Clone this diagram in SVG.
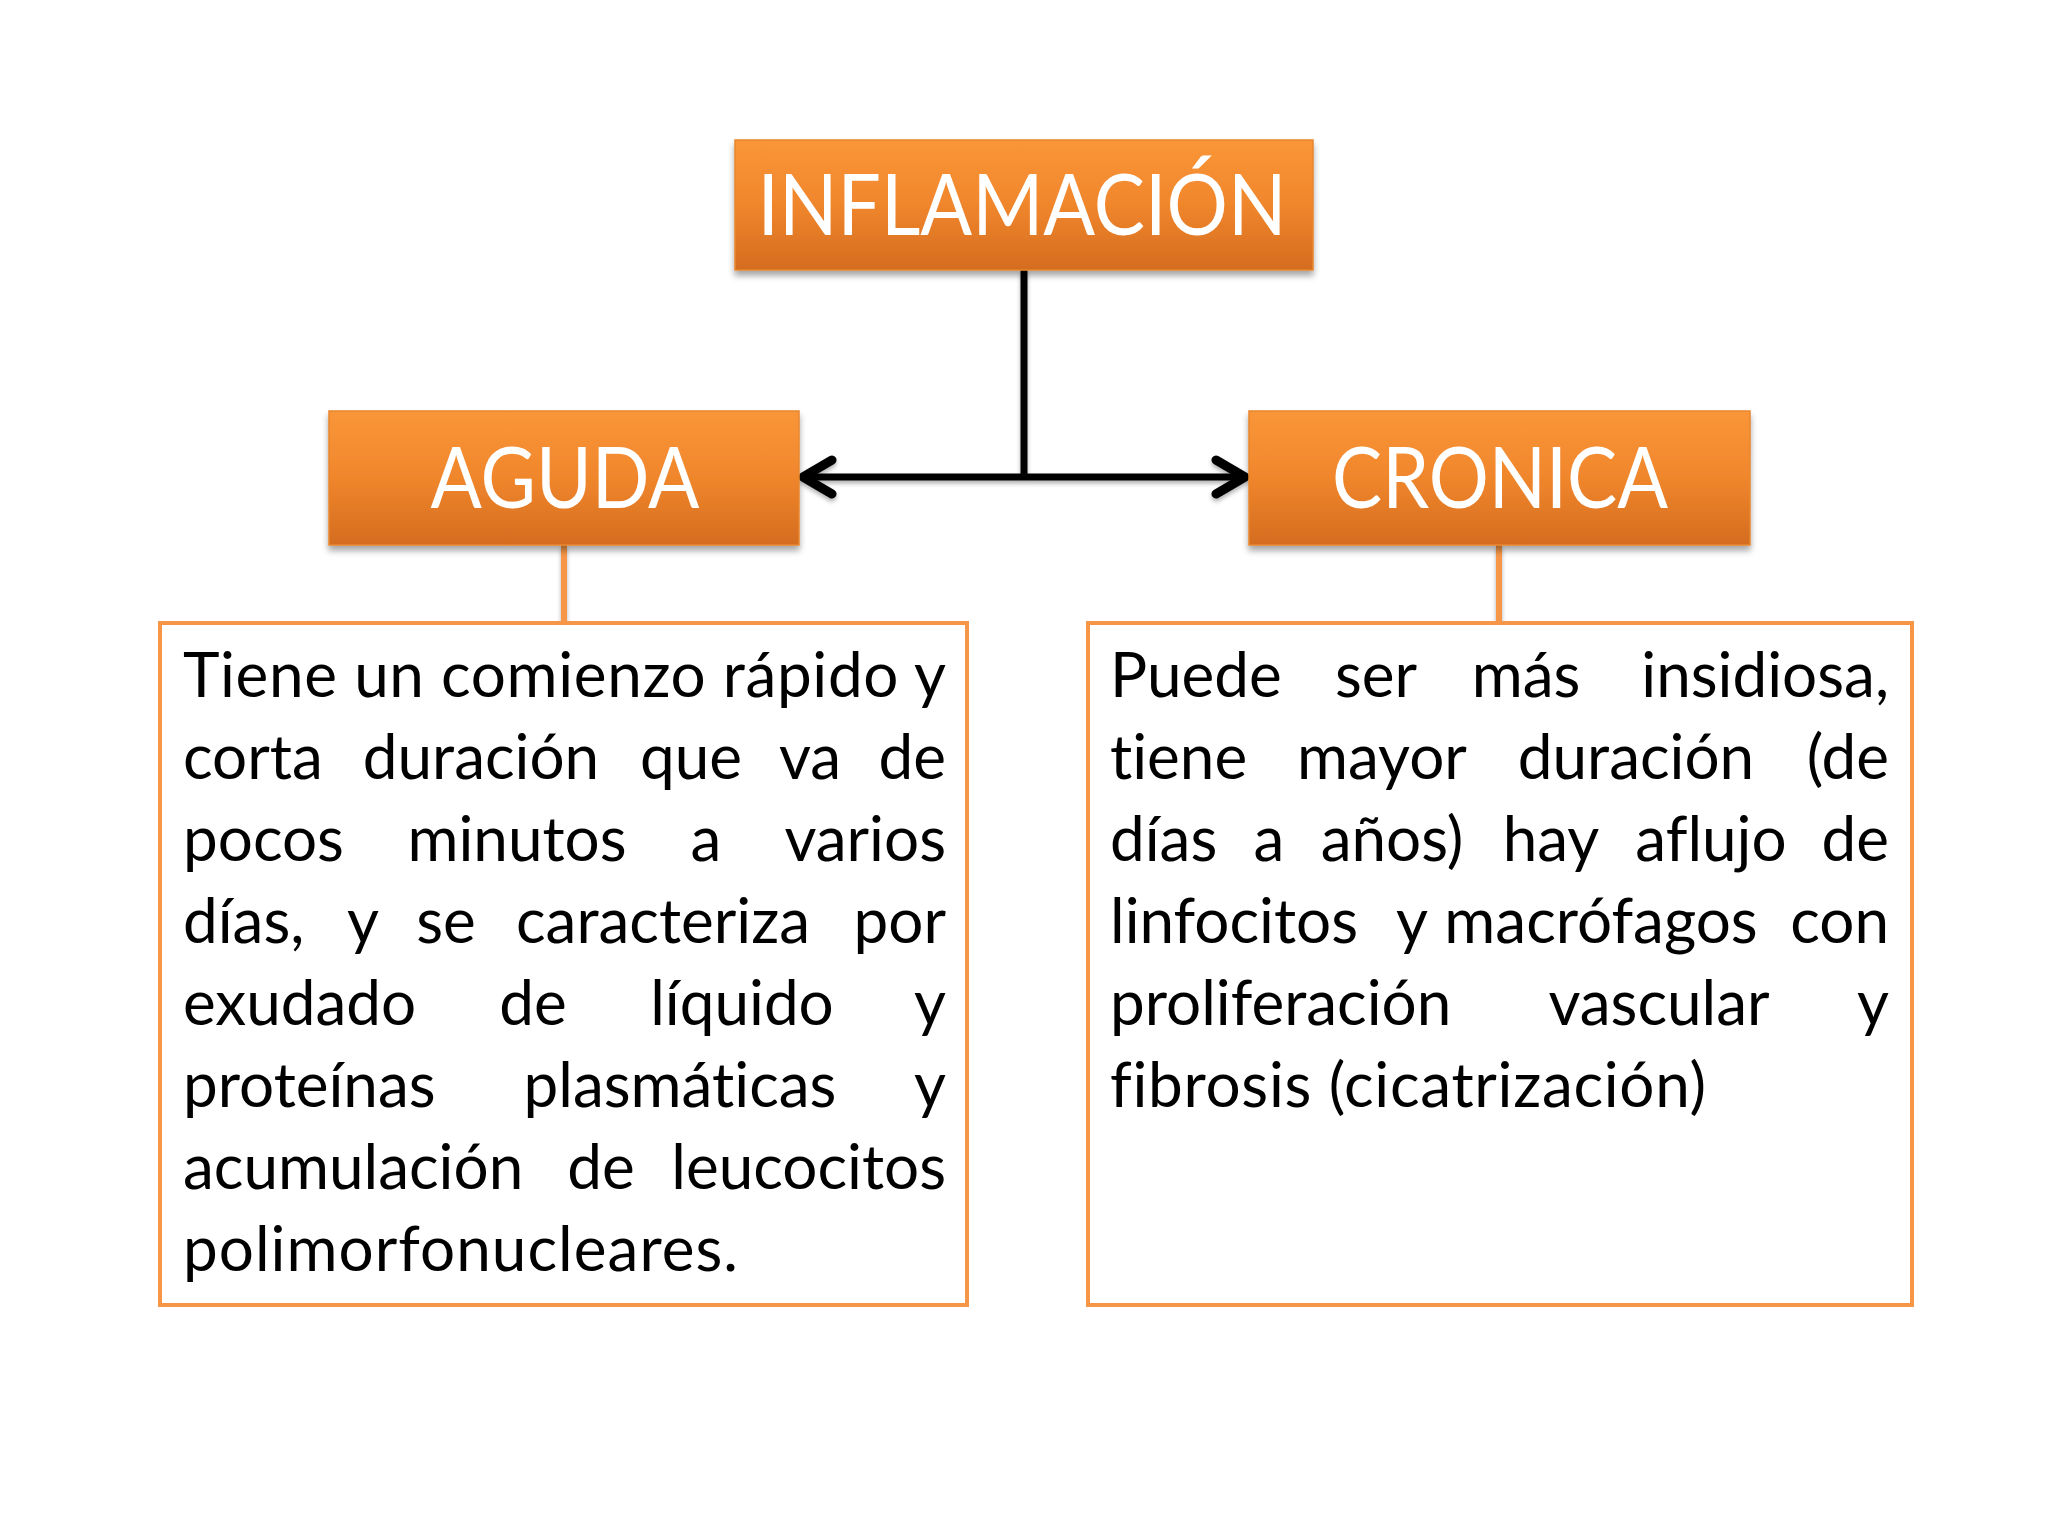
<svg xmlns="http://www.w3.org/2000/svg" width="2048" height="1536" viewBox="0 0 2048 1536">
<defs>
<linearGradient id="og" x1="0" y1="0" x2="0" y2="1">
<stop offset="0" stop-color="#FA9638"/>
<stop offset="0.5" stop-color="#F0862C"/>
<stop offset="1" stop-color="#D46C1F"/>
</linearGradient>
<filter id="sh" x="-10%" y="-20%" width="120%" height="150%">
<feDropShadow dx="0" dy="5" stdDeviation="3" flood-color="#000" flood-opacity="0.35"/>
</filter>
<filter id="lsh" filterUnits="userSpaceOnUse" x="0" y="0" width="2048" height="1536">
<feDropShadow dx="0" dy="3" stdDeviation="2" flood-color="#000" flood-opacity="0.3"/>
</filter>
<marker id="chev" viewBox="0 0 44 44" refX="39" refY="22" markerWidth="44" markerHeight="44" markerUnits="userSpaceOnUse" orient="auto-start-reverse">
<path d="M10 5 L39 22 L10 39" fill="none" stroke="#000" stroke-width="9" stroke-linecap="round" stroke-linejoin="round"/>
</marker>
<style>
.hd{fill:url(#og);stroke:#E8862E;stroke-width:1.5}
.ht{font-family:Lato,"Open Sans",sans-serif;font-size:86px;fill:#fff;text-anchor:middle}
.tb{fill:#fff;stroke:#F79646;stroke-width:4}
.bt{font-family:Lato,"Open Sans",sans-serif;font-size:62px;fill:#000;font-variant-ligatures:none}
.m{text-anchor:middle}
.e{text-anchor:end}
.oc{fill:#F79646}
.bk{stroke:#000;stroke-width:7;fill:none}
</style>
</defs>
<rect width="2048" height="1536" fill="#fff"/>
<g id="connectors">
<g filter="url(#lsh)">
<line class="bk" x1="1024" y1="270" x2="1024" y2="477"/>
<line class="bk" x1="1024" y1="477" x2="803" y2="477" marker-end="url(#chev)"/>
<line class="bk" x1="1024" y1="477" x2="1245" y2="477" marker-end="url(#chev)"/>
</g>
<rect class="oc" x="561" y="545" width="6" height="78" filter="url(#lsh)"/>
<rect class="oc" x="1496" y="545" width="6" height="78" filter="url(#lsh)"/>
</g>
<g id="inflamacion">
<rect class="hd" x="735" y="140" width="578" height="130" filter="url(#sh)"/>
<text class="ht" x="1022" y="235" textLength="529" lengthAdjust="spacingAndGlyphs">INFLAMACIÓN</text>
</g>
<g id="aguda">
<rect class="hd" x="329" y="411" width="470" height="134" filter="url(#sh)"/>
<text class="ht" x="565" y="508" textLength="269" lengthAdjust="spacingAndGlyphs">AGUDA</text>
</g>
<g id="cronica">
<rect class="hd" x="1249" y="411" width="501" height="134" filter="url(#sh)"/>
<text class="ht" x="1500" y="508" textLength="336" lengthAdjust="spacingAndGlyphs">CRONICA</text>
</g>
<g id="aguda-texto">
<rect class="tb" x="160" y="623" width="807" height="682"/>
<text class="bt" x="183" y="697" textLength="763" lengthAdjust="spacing">Tiene un comienzo rápido y</text>
<text class="bt" y="779"><tspan x="183">corta</tspan><tspan class="m" x="481">duración</tspan><tspan class="m" x="691">que</tspan><tspan class="m" x="810">va</tspan><tspan class="e" x="946">de</tspan></text>
<text class="bt" y="861"><tspan x="183">pocos</tspan><tspan class="m" x="517">minutos</tspan><tspan class="m" x="706">a</tspan><tspan class="e" x="946">varios</tspan></text>
<text class="bt" y="943"><tspan x="183">días,</tspan><tspan class="m" x="363">y</tspan><tspan class="m" x="446">se</tspan><tspan class="m" x="663">caracteriza</tspan><tspan class="e" x="946">por</tspan></text>
<text class="bt" y="1025"><tspan x="183">exudado</tspan><tspan class="m" x="533">de</tspan><tspan class="m" x="742">líquido</tspan><tspan class="e" x="946">y</tspan></text>
<text class="bt" y="1107"><tspan x="183">proteínas</tspan><tspan class="m" x="680">plasmáticas</tspan><tspan class="e" x="946">y</tspan></text>
<text class="bt" y="1189"><tspan x="183">acumulación</tspan><tspan class="m" x="601">de</tspan><tspan class="e" x="946">leucocitos</tspan></text>
<text class="bt" x="183" y="1271" textLength="555" lengthAdjust="spacing">polimorfonucleares.</text>
</g>
<g id="cronica-texto">
<rect class="tb" x="1088" y="623" width="824" height="682"/>
<text class="bt" y="697"><tspan x="1110">Puede</tspan><tspan class="m" x="1376">ser</tspan><tspan class="m" x="1526">más</tspan><tspan class="e" x="1889">insidiosa,</tspan></text>
<text class="bt" y="779"><tspan x="1110">tiene</tspan><tspan class="m" x="1382">mayor</tspan><tspan class="m" x="1636">duración</tspan><tspan class="e" x="1889">(de</tspan></text>
<text class="bt" y="861"><tspan x="1110">días</tspan><tspan class="m" x="1269">a</tspan><tspan class="m" x="1392">años)</tspan><tspan class="m" x="1551">hay</tspan><tspan class="m" x="1711">aflujo</tspan><tspan class="e" x="1889">de</tspan></text>
<text class="bt" y="943"><tspan x="1110">linfocitos</tspan><tspan class="m" x="1412">y</tspan><tspan class="m" x="1601">macrófagos</tspan><tspan class="e" x="1889">con</tspan></text>
<text class="bt" y="1025"><tspan x="1110">proliferación</tspan><tspan class="m" x="1659">vascular</tspan><tspan class="e" x="1889">y</tspan></text>
<text class="bt" x="1110" y="1107" textLength="596" lengthAdjust="spacing">fibrosis (cicatrización)</text>
</g>
</svg>
